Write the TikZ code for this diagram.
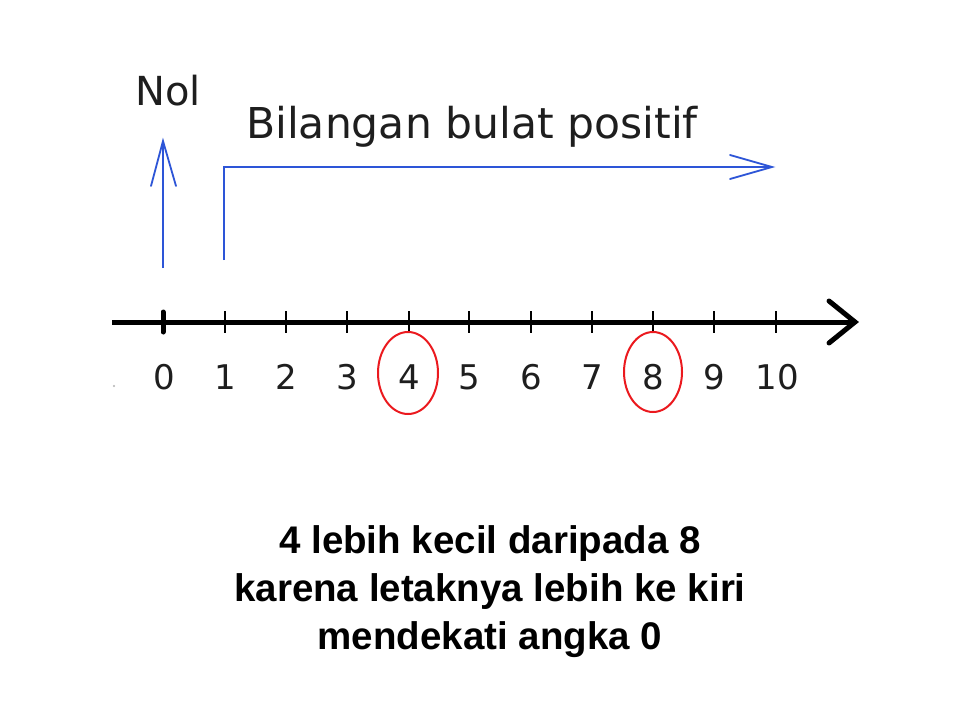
\documentclass[tikz,border=0pt]{standalone}
\usepackage{fontspec}
\setmainfont{DejaVu Sans}
\newfontfamily\boldfont{Liberation Sans}
\usetikzlibrary{arrows.meta}
\definecolor{lineblue}{RGB}{45,85,215}
\definecolor{circred}{RGB}{235,25,30}
\definecolor{txt}{RGB}{30,30,30}
\begin{document}
\begin{tikzpicture}[x=1pt,y=-1pt,
  numlbl/.style={font=\fontsize{34}{40}\selectfont, text=txt, inner sep=0pt, anchor=base},
  bigtxt/.style={font=\fontsize{40}{48}\selectfont, text=txt, inner sep=0pt, anchor=base west},
  caption/.style={font=\boldfont\bfseries\fontsize{38.5}{48}\selectfont, align=center, inner sep=0pt, text=black},
  tickmark/.style={line width=1.5pt, black},
  blueline/.style={lineblue, line width=1.8pt},
  ring/.style={circred, line width=2pt}]
\useasboundingbox[fill=white] (0,0) rectangle (960,720);
% number line
\coordinate (lstart) at (112,322);
\coordinate (ltip) at (855,322);
\draw[line width=5pt] (lstart) -- (852,322);
\draw[line width=5pt, line cap=round, line join=miter] (829,301) -- (ltip) -- (829,343);
% ticks and labels
\foreach \i/\x in {1/225,2/286,3/347,4/409,5/469,6/531,7/592,8/653,9/714,10/776}{
  \draw[tickmark] (\x,311) -- (\x,333);
}
\foreach \i/\x in {1/225,2/286,3/347,4/409,5/469,6/531,7/592,8/653,9/714,10/777}{
  \node[numlbl] (n\i) at (\x,389) {\i};
}
\draw[line width=5pt, line cap=round] (163,312) -- (163,332);
\node[numlbl] (n0) at (164,389) {0};
\fill[gray!60] (114,386) circle (1.2);
% red ellipses
\draw[ring] (408,373) ellipse [x radius=30, y radius=41];
\draw[ring] (653,372) ellipse [x radius=29, y radius=40];
% blue arrows
\coordinate (zb) at (163,268);
\coordinate (zt) at (163,141);
\draw[blueline] (zb) -- (zt);
\draw[blueline, line cap=round] (151,186) -- (zt) -- (176,186);
\coordinate (pb) at (224,260);
\coordinate (pc) at (224,167);
\coordinate (pt) at (772,167);
\draw[blueline] (pb) -- (pc) -- (pt);
\draw[blueline, line cap=round] (730,155) -- (pt) -- (730,179);
% texts
\node[bigtxt] (nol) at (135,105) {Nol};
\node[bigtxt, font=\fontsize{42.5}{50}\selectfont] (bil) at (246,138) {Bilangan bulat positif};
\node[caption] (cap) at (490,592) {4 lebih kecil daripada 8\\karena letaknya lebih ke kiri\\mendekati angka 0};
\end{tikzpicture}
\end{document}
